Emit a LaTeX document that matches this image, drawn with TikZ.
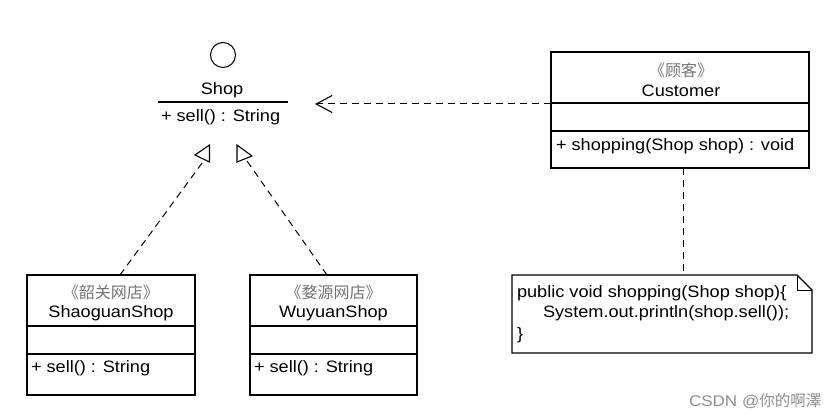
\documentclass[tikz,border=0pt]{standalone}
\usepackage{fontspec}
\setmainfont{Liberation Sans}[FakeStretch=1.1]
\newfontfamily\cjk{Noto Sans CJK SC}
\usetikzlibrary{arrows.meta}
\begin{document}
\begin{tikzpicture}[x=1pt,y=-1pt,
  every node/.style={inner sep=0pt,outer sep=0pt,font=\fontsize{16.5}{18}\selectfont},
  classbox/.style={draw,line width=1.2pt,rectangle,anchor=north west},
  stereo/.style={font=\cjk\fontsize{16}{17}\selectfont,text=black!55},
  dep/.style={line width=1pt,dash pattern=on 7pt off 5pt},
  sep/.style={line width=1.1pt}]
\useasboundingbox (0,0) rectangle (839,420);
% Shop interface
\node[circle,draw,line width=1pt,minimum size=25pt] (ic) at (223,55) {};
\node (shopname) at (222,90) {Shop};
\draw[sep] (158,102) -- (288,102);
\node[anchor=west] (shopop) at (161,117) {+ sell() : String};
\coordinate (shopin) at (315,104);
% Customer
\node[classbox,minimum width=258pt,minimum height=116pt] (cust) at (551,52) {};
\node[stereo] (custst) at (681,70) {《顾客》};
\node (custname) at (681,91) {Customer};
\draw[sep] ([yshift=-51pt]cust.north west) -- ([yshift=-51pt]cust.north east);
\draw[sep] ([yshift=-79pt]cust.north west) -- ([yshift=-79pt]cust.north east);
\node[anchor=west] (custop) at (556,146) {+ shopping(Shop shop) : void};
% ShaoguanShop
\node[classbox,minimum width=168pt,minimum height=120pt] (sg) at (27,275) {};
\node[stereo] (sgst) at (111,292) {《韶关网店》};
\node (sgname) at (111,313) {ShaoguanShop};
\draw[sep] ([yshift=-51pt]sg.north west) -- ([yshift=-51pt]sg.north east);
\draw[sep] ([yshift=-79pt]sg.north west) -- ([yshift=-79pt]sg.north east);
\node[anchor=west] (sgop) at (31,368) {+ sell() : String};
% WuyuanShop
\node[classbox,minimum width=167pt,minimum height=120pt] (wy) at (250,275) {};
\node[stereo] (wyst) at (333.5,292) {《婺源网店》};
\node (wyname) at (333.5,313) {WuyuanShop};
\draw[sep] ([yshift=-51pt]wy.north west) -- ([yshift=-51pt]wy.north east);
\draw[sep] ([yshift=-79pt]wy.north west) -- ([yshift=-79pt]wy.north east);
\node[anchor=west] (wyop) at (254,368) {+ sell() : String};
% Note
\node[anchor=north west,minimum width=300pt,minimum height=78pt] (note) at (512,275) {};
\draw[line width=1.2pt] (note.north west) -- ([xshift=-15pt]note.north east)
  -- ([yshift=-15pt]note.north east) -- (note.south east) -- (note.south west) -- cycle;
\draw[line width=0.9pt] ([xshift=-15pt]note.north east) -- ([xshift=-15pt,yshift=-15pt]note.north east)
  -- ([yshift=-15pt]note.north east);
\node[anchor=west] (n1) at (517,293) {public void shopping(Shop shop)\{};
\node[anchor=west] (n2) at (543,313) {System.out.println(shop.sell());};
\node[anchor=west] (n3) at (517,335) {\}};
% Connectors
\draw[dep,-{Straight Barb[length=16pt,width=17pt,line width=1.1pt]}] ([yshift=-52pt]cust.north west) -- (shopin);
\coordinate (g1) at (205,159);
\coordinate (g2) at (247,161);
\draw[dep] ([xshift=9pt]sg.north) -- (g1);
\draw[dep] ([xshift=-6.5pt]wy.north) -- (g2);
\draw[line width=1.1pt,fill=white] (209.5,145) -- (209.5,162) -- (195,155) -- cycle;
\draw[line width=1.1pt,fill=white] (237,145) -- (237,162) -- (252,156) -- cycle;
\draw[dep] (cust.south -| 683,0) -- (note.north -| 683,0);
% Watermark
\node[anchor=west,text=black!45,font=\fontsize{15.5}{17}\selectfont] (wm) at (689,401) {CSDN @{\cjk 你的啊澤}};
\end{tikzpicture}
\end{document}
